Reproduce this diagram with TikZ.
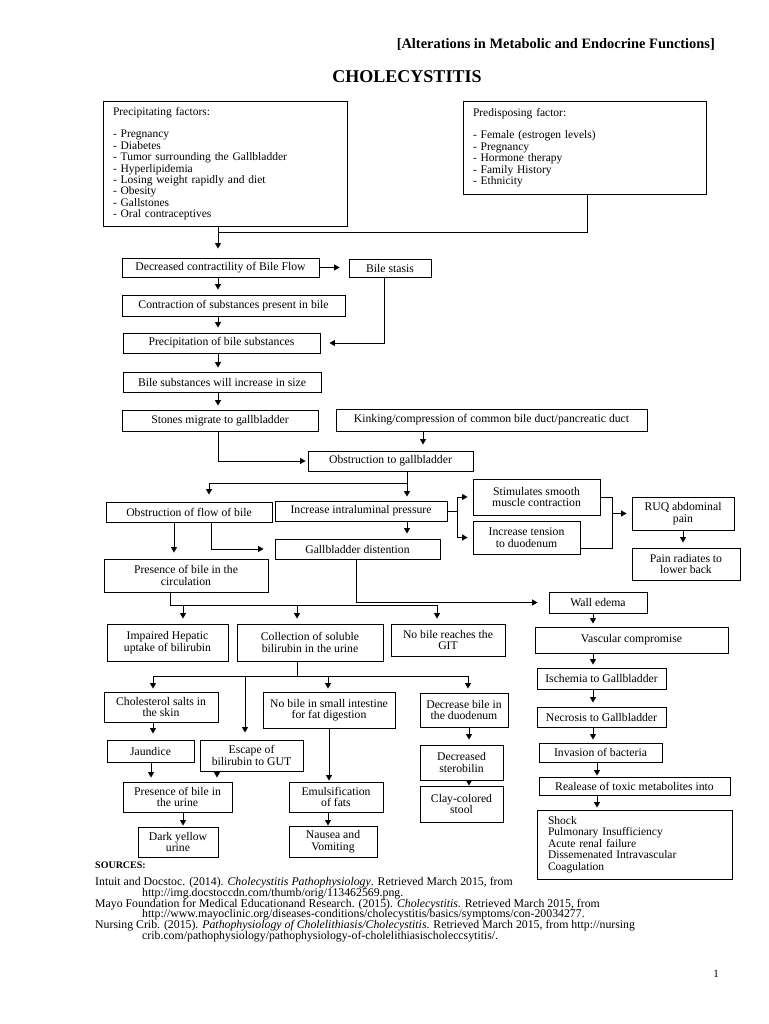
\documentclass[tikz,border=0pt]{standalone}
\usepackage{fontspec}
\setmainfont{Liberation Serif}
\usetikzlibrary{arrows.meta,calc}
\newcommand\mkbox[7][]{\node[box,#1,minimum width={#5-#3},minimum height={#6-#4}] (#2) at ({(#3+#5)/2},{(#4+#6)/2}) {#7};}
\begin{document}
\begin{tikzpicture}[x=1pt,y=-1pt,
  box/.style={draw,line width=0.9pt,inner sep=0pt,align=center,font=\fontsize{11.7}{11.6}\selectfont},
  lbox/.style={align=left,inner xsep=10pt,font=\fontsize{11.5}{11.4}\selectfont},
  ln/.style={line width=0.9pt},
  arr/.style={ln,-{Triangle[length=5.5pt,width=6pt]}},
  src/.style={anchor=base west,inner sep=0pt,font=\fontsize{11.8}{12}\selectfont},
]
\fill[white] (0,0) rectangle (768,1024);
\useasboundingbox (0,0) rectangle (768,1024);

% titles
\node[anchor=base east,inner sep=0pt,font=\fontsize{14.4}{16}\selectfont\bfseries] (hdr) at (715,49) {[Alterations in Metabolic and Endocrine Functions]};
\node[anchor=base,inner sep=0pt,font=\fontsize{18}{20}\selectfont\bfseries] (ttl) at (407,83) {CHOLECYSTITIS};

% column coordinates
\foreach \n in {151,153,170,174,183,209,211,217,218,245,297,328,329,356,384,407,423,437,457,468,469,593,597,612,587}{\coordinate (x\n) at (\n,0);}
\foreach \n in {232,483,548,600,605,676}{\coordinate (j\n) at (0,\n);}

% boxes
\mkbox[lbox,text width=224pt]{pf}{103}{101}{347}{226}{Precipitating factors:\\[11.4pt]- Pregnancy\\- Diabetes\\- Tumor surrounding the Gallbladder\\- Hyperlipidemia\\- Losing weight rapidly and diet\\- Obesity\\- Gallstones\\- Oral contraceptives}
\mkbox[lbox,text width=223pt]{pd}{463}{101}{706}{194}{Predisposing factor:\\[11.4pt]- Female (estrogen levels)\\- Pregnancy\\- Hormone therapy\\- Family History\\- Ethnicity}
\mkbox{dec}{122}{258}{319}{277}{Decreased contractility of Bile Flow}
\mkbox{stasis}{349}{259}{431}{277}{Bile stasis}
\mkbox{con}{122}{295}{345}{316}{Contraction of substances present in bile}
\mkbox{pre}{123}{333}{320}{353}{Precipitation of bile substances}
\mkbox{big}{123}{372}{321}{392}{Bile substances will increase in size}
\mkbox{stones}{122}{410}{318}{431}{Stones migrate to gallbladder}
\mkbox{kink}{336}{409}{647}{431}{Kinking/compression of common bile duct/pancreatic duct}
\mkbox{obs}{308}{451}{473}{471}{Obstruction to gallbladder}
\mkbox{ofb}{106}{502}{272}{522}{Obstruction of flow of bile}
\mkbox{iip}{275}{501}{447}{521}{Increase intraluminal pressure}
\mkbox{gd}{275}{539}{440}{559}{Gallbladder distention}
\mkbox{sm}{473}{479}{600}{515}{Stimulates smooth\\muscle contraction}
\mkbox{it}{473}{521}{580}{554}{Increase tension\\to duodenum}
\mkbox{ruq}{632}{497}{734}{530}{RUQ abdominal\\pain}
\mkbox{pain}{632}{548}{740}{580}{Pain radiates to\\lower back}
\mkbox{pbc}{104}{559}{268}{592}{Presence of bile in the\\circulation}
\mkbox{iht}{107}{624}{228}{661}{Impaired Hepatic\\uptake of bilirubin}
\mkbox{coll}{237}{624}{383}{661}{Collection of soluble\\bilirubin in the urine}
\mkbox{nbr}{391}{624}{505}{656}{No bile reaches the\\GIT}
\mkbox{wall}{549}{592}{647}{613}{Wall edema}
\mkbox{vasc}{535}{627}{728}{653}{Vascular compromise}
\mkbox{isch}{537}{668}{666}{689}{Ischemia to Gallbladder}
\mkbox{nec}{537}{707}{666}{727}{Necrosis to Gallbladder}
\mkbox{inv}{539}{743}{662}{762}{Invasion of bacteria}
\mkbox{rel}{539}{777}{730}{795}{Realease of toxic metabolites into}
\mkbox[lbox,text width=173pt,inner xsep=11pt]{shock}{537}{810}{732}{879}{Shock\\Pulmonary Insufficiency\\Acute renal failure\\Dissemenated Intravascular\\Coagulation}
\mkbox{chol}{104}{692}{218}{722}{Cholesterol salts in\\the skin}
\mkbox{jaun}{107}{740}{194}{762}{Jaundice}
\mkbox{esc}{200}{740}{303}{771}{Escape of\\bilirubin to GUT}
\mkbox{pbu}{123}{782}{232}{812}{Presence of bile in\\the urine}
\mkbox{dyu}{138}{827}{218}{857}{Dark yellow\\urine}
\mkbox{nbsi}{263}{692}{395}{728}{No bile in small intestine\\for fat digestion}
\mkbox{emul}{289}{782}{383}{812}{Emulsification\\of fats}
\mkbox{nau}{289}{826}{377}{857}{Nausea and\\Vomiting}
\mkbox{dbd}{420}{693}{508}{727}{Decrease bile in\\the duodenum}
\mkbox{ster}{420}{745}{503}{780}{Decreased\\sterobilin}
\mkbox{clay}{420}{786}{503}{822}{Clay-colored\\stool}

% connectors
\draw[ln] (pd.south -| x587) -- (x587 |- j232) -- (x218 |- j232);
\draw[arr,shorten >=9pt] (pf.south -| x218) -- (dec.north -| x218);
\draw[arr,shorten >=9pt] (dec.east) -- (stasis.west |- dec.east);
\draw[arr,shorten >=5pt] (dec.south -| x218) -- (con.north -| x218);
\draw[arr,shorten >=5pt] (con.south -| x218) -- (pre.north -| x218);
\draw[arr,shorten >=9pt] (stasis.south -| x384) |- (pre.east);
\draw[arr,shorten >=4pt] (pre.south -| x218) -- (big.north -| x218);
\draw[arr,shorten >=4pt] (big.south -| x218) -- (stones.north -| x218);
\draw[arr,shorten >=2pt] (stones.south -| x218) |- (obs.west);
\draw[arr,shorten >=6pt] (kink.south -| x423) -- (obs.north -| x423);
\draw[arr,shorten >=7pt] (obs.south -| x407) -- (x407 |- j483) -| (ofb.north -| x209);
\draw[arr,shorten >=4pt] (obs.south -| x407) -- (iip.north -| x407);
\draw[arr,shorten >=5pt] (iip.south -| x407) -- (gd.north -| x407);
\draw[arr,shorten >=5pt] (iip.east) -| (x457 |- sm.west) -- (sm.west);
\draw[arr,shorten >=5pt] (iip.east) -| (x457 |- it.west) -- (it.west);
\coordinate (itr) at (it.east |- j548);
\draw[ln] (sm.east) -| (x612 |- itr) -- (itr);
\draw[arr,shorten >=5pt] (x612 |- ruq.west) -- (ruq.west);
\draw[arr,shorten >=5pt] (ruq.south) -- (ruq.south |- pain.north);
\draw[arr,shorten >=6pt] (ofb.south -| x174) -- (pbc.north -| x174);
\draw[arr,shorten >=11pt] (ofb.south -| x211) |- (gd.west);
\draw[ln] (pbc.south -| x170) |- (x437 |- j605);
\draw[arr,shorten >=5pt] (x183 |- j605) -- (iht.north -| x183);
\draw[arr,shorten >=5pt] (x297 |- j605) -- (coll.north -| x297);
\draw[arr,shorten >=5pt] (x437 |- j605) -- (nbr.north -| x437);
\draw[arr,shorten >=11pt] (gd.south -| x356) |- (wall.west);
\draw[arr,shorten >=3pt] (wall.south -| x593) -- (vasc.north -| x593);
\draw[arr,shorten >=3pt] (vasc.south -| x593) -- (isch.north -| x593);
\draw[arr,shorten >=4pt] (isch.south -| x593) -- (nec.north -| x593);
\draw[arr,shorten >=3pt] (nec.south -| x593) -- (inv.north -| x593);
\draw[arr,shorten >=1pt] (inv.south -| x597) -- (rel.north -| x597);
\draw[arr,shorten >=2pt] (rel.south -| x597) -- (shock.north -| x597);
\draw[ln] (coll.south -| x297) -- (x297 |- j676);
\draw[ln] (x153 |- j676) -- (x468 |- j676);
\draw[arr,shorten >=3pt] (x153 |- j676) -- (chol.north -| x153);
\draw[arr,shorten >=7pt] (x245 |- j676) -- (esc.north -| x245);
\draw[arr,shorten >=3pt] (x328 |- j676) -- (nbsi.north -| x328);
\draw[arr,shorten >=4pt] (x468 |- j676) -- (dbd.north -| x468);
\draw[arr,shorten >=6pt] (chol.south -| x153) -- (jaun.north -| x153);
\draw[arr,shorten >=4pt] (jaun.south -| x151) -- (pbu.north -| x151);
\draw[arr,shorten >=4pt] (esc.south -| x217) -- (pbu.north -| x217);
\draw[arr,shorten >=1pt] (pbu.south -| x183) -- (dyu.north -| x183);
\draw[arr,shorten >=1pt] (nbsi.south -| x329) -- (emul.north -| x329);
\draw[arr,shorten >=0pt] (emul.south -| x328) -- (nau.north -| x328);
\draw[arr,shorten >=5pt] (dbd.south -| x469) -- (ster.north -| x469);
\draw[arr,shorten >=0pt] (ster.south -| x469) -- (clay.north -| x469);

% sources
\node[anchor=base west,inner sep=0pt,font=\fontsize{10}{10}\selectfont\bfseries] (srch) at (95,868) {SOURCES:};
\node[src] (s1) at (95,885) {Intuit and Docstoc. (2014). \textit{Cholecystitis Pathophysiology}. Retrieved March 2015, from};
\node[src] (s2) at (142,896) {http://img.docstoccdn.com/thumb/orig/113462569.png.};
\node[src] (s3) at (95,907) {Mayo Foundation for Medical Educationand Research. (2015). \textit{Cholecystitis}. Retrieved March 2015, from};
\node[src] (s4) at (142,917) {http://www.mayoclinic.org/diseases-conditions/cholecystitis/basics/symptoms/con-20034277.};
\node[src] (s5) at (95,928) {Nursing Crib. (2015). \textit{Pathophysiology of Cholelithiasis/Cholecystitis}. Retrieved March 2015, from http://nursing};
\node[src] (s6) at (142,939) {crib.com/pathophysiology/pathophysiology-of-cholelithiasischoleccsytitis/.};
\node[anchor=base,inner sep=0pt,font=\fontsize{11}{11}\selectfont] (pg) at (716,977) {1};
\end{tikzpicture}
\end{document}
